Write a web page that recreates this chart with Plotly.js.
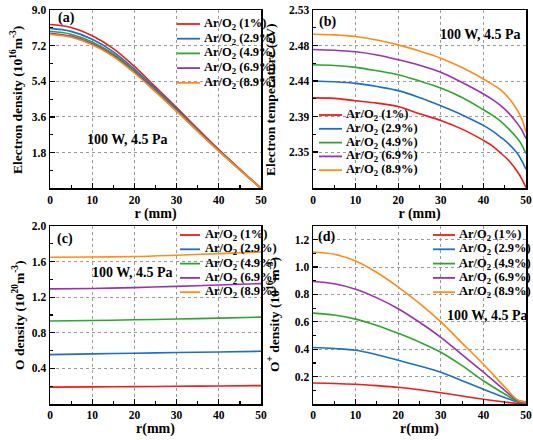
<!DOCTYPE html>
<html>
<head>
<meta charset="utf-8">
<script src="https://cdn.plot.ly/plotly-3.0.1.min.js"></script>
<style>html,body{margin:0;padding:0;background:#fff;}#chart{width:533px;height:440px;}</style>
</head>
<body>
<div id="chart"></div>
<script>
// ---------- data ----------
const seriesLabels = ["Ar/O<sub>2</sub> (1%)", "Ar/O<sub>2</sub> (2.9%)", "Ar/O<sub>2</sub> (4.9%)", "Ar/O<sub>2</sub> (6.9%)", "Ar/O<sub>2</sub> (8.9%)"];
const seriesColors = ["#ee1c1c", "#1f6ec4", "#2fa52f", "#9933aa", "#ff8c1a"];

// (a) electron density (1e16 m^-3)
const rA = [0, 5, 10, 15, 20, 25, 30, 35, 40, 45, 50];
const neAr1  = [8.27, 8.12, 7.70, 7.05, 6.15, 5.12, 4.08, 3.00, 1.95, 0.97, 0];
const neAr29 = [8.07, 7.92, 7.52, 6.89, 6.02, 5.02, 4.00, 2.95, 1.92, 0.95, 0];
const neAr49 = [7.93, 7.78, 7.39, 6.78, 5.93, 4.95, 3.94, 2.91, 1.90, 0.94, 0];
const neAr69 = [7.83, 7.68, 7.30, 6.70, 5.86, 4.90, 3.90, 2.89, 1.89, 0.93, 0];
const neAr89 = [7.77, 7.62, 7.24, 6.65, 5.82, 4.87, 3.88, 2.87, 1.88, 0.93, 0];

// (b) electron temperature (eV)
const rB = [0, 5, 10, 15, 20, 25, 30, 35, 40, 42, 44, 46, 48, 49, 50];
const teAr1  = [2.4186, 2.418, 2.415, 2.412, 2.4076, 2.3985, 2.390, 2.379, 2.3647, 2.358, 2.349, 2.339, 2.325, 2.316, 2.305];
const teAr29 = [2.440, 2.439, 2.437, 2.433, 2.4278, 2.419, 2.4085, 2.397, 2.3837, 2.377, 2.369, 2.360, 2.348, 2.339, 2.328];
const teAr49 = [2.4606, 2.4597, 2.4573, 2.453, 2.448, 2.440, 2.4312, 2.419, 2.4035, 2.397, 2.389, 2.379, 2.367, 2.359, 2.348];
const teAr69 = [2.480, 2.479, 2.477, 2.473, 2.467, 2.460, 2.451, 2.438, 2.4236, 2.417, 2.409, 2.399, 2.386, 2.378, 2.367];
const teAr89 = [2.4993, 2.4985, 2.4964, 2.492, 2.4858, 2.478, 2.469, 2.457, 2.4425, 2.436, 2.429, 2.418, 2.4026, 2.392, 2.375];

// (c) O density (1e20 m^-3)
const rC = [0, 10, 20, 30, 40, 50];
const nOAr1  = [0.190, 0.192, 0.195, 0.199, 0.203, 0.207];
const nOAr29 = [0.555, 0.563, 0.571, 0.578, 0.585, 0.592];
const nOAr49 = [0.932, 0.938, 0.946, 0.955, 0.965, 0.976];
const nOAr69 = [1.293, 1.298, 1.308, 1.322, 1.337, 1.353];
const nOAr89 = [1.649, 1.651, 1.657, 1.672, 1.690, 1.708];

// (d) O+ density (1e16 m^-3)
const rD = [0, 5, 10, 15, 20, 25, 30, 35, 40, 45, 48, 50];
const nOpAr1  = [0.153, 0.150, 0.144, 0.134, 0.122, 0.104, 0.082, 0.058, 0.035, 0.015, 0.004, 0.000];
const nOpAr29 = [0.413, 0.405, 0.392, 0.360, 0.320, 0.278, 0.232, 0.170, 0.108, 0.048, 0.015, 0.010];
const nOpAr49 = [0.664, 0.650, 0.620, 0.574, 0.516, 0.452, 0.378, 0.280, 0.170, 0.073, 0.020, 0.012];
const nOpAr69 = [0.895, 0.878, 0.838, 0.775, 0.696, 0.597, 0.487, 0.360, 0.232, 0.100, 0.027, 0.015];
const nOpAr89 = [1.110, 1.093, 1.044, 0.960, 0.854, 0.735, 0.600, 0.445, 0.290, 0.125, 0.030, 0.015];

const xTicks = [0, 10, 20, 30, 40, 50];
const xMinor = [5, 15, 25, 35, 45];
const yTicksA = [1.8, 3.6, 5.4, 7.2, 9.0];
const yTicksB = [2.35, 2.395, 2.44, 2.485, 2.53];
const yTickTextB = ["2.35", "2.39", "2.44", "2.48", "2.53"];
const yTicksC = [0.4, 0.8, 1.2, 1.6, 2.0];
const yTicksD = [0.2, 0.4, 0.6, 0.8, 1.0, 1.2];
const yTitles = ["Electron density (10<sup>16</sup>m<sup>-3</sup>)", "Electron temperature (eV)",
  "O density (10<sup>20</sup>m<sup>-3</sup>)", "O<sup>+</sup> density (10<sup>16</sup>m<sup>-3</sup>)"];

// ---------- build ----------
const W = 533, H = 440;
const FONT = "Liberation Serif, Times New Roman, serif";
const px = v => v / W;
const py = v => 1 - v / H;

const panels = [
  {r: rA, ys: [neAr1, neAr29, neAr49, neAr69, neAr89], xa: 'x', ya: 'y'},
  {r: rB, ys: [teAr1, teAr29, teAr49, teAr69, teAr89], xa: 'x2', ya: 'y2'},
  {r: rC, ys: [nOAr1, nOAr29, nOAr49, nOAr69, nOAr89], xa: 'x3', ya: 'y3'},
  {r: rD, ys: [nOpAr1, nOpAr29, nOpAr49, nOpAr69, nOpAr89], xa: 'x4', ya: 'y4'}
];

const traces = [];
panels.forEach(p => {
  p.ys.forEach((y, i) => {
    traces.push({x: p.r, y: y, xaxis: p.xa, yaxis: p.ya, type: 'scatter', mode: 'lines',
      name: seriesLabels[i], showlegend: false, line: {color: seriesColors[i], width: 1.6, shape: 'spline', smoothing: 1}});
  });
});

const tickFont = {family: FONT, size: 11.5, weight: 'bold', color: '#000'};
const titleFont = {family: FONT, size: 13.5, weight: 'bold', color: '#000'};
const xTitleFont = {family: FONT, size: 14, weight: 'bold', color: '#000'};

function axBase(extra) {
  return Object.assign({
    showline: true, linecolor: '#000', linewidth: 1.5, mirror: true,
    ticks: 'inside', ticklen: 5, tickwidth: 1.2, tickcolor: '#000',
    showgrid: true, gridcolor: '#9a9a9a', griddash: 'dot', gridwidth: 1,
    zeroline: false, tickfont: tickFont, fixedrange: true
  }, extra);
}
function xAx(domain, anchor, title) {
  return axBase({domain: domain, anchor: anchor, range: [0, 50], tickmode: 'array', tickvals: xTicks,
    minor: {tickmode: 'array', tickvals: xMinor, ticks: 'inside', ticklen: 3, tickcolor: '#000', showgrid: false},
    title: {text: title, font: xTitleFont, standoff: 3}});
}
function yAx(domain, anchor, range, tv, tt, minorVals) {
  const o = axBase({domain: domain, anchor: anchor, range: range, tickmode: 'array', tickvals: tv,
    minor: {tickmode: 'array', tickvals: minorVals, ticks: 'inside', ticklen: 3, tickcolor: '#000', showgrid: false}});
  if (tt) o.ticktext = tt;
  return o;
}

const dxL = [px(50), px(261)], dxR = [px(313), px(526)];
const dyTop = [py(188.3), py(10)], dyBot = [py(404), py(226)];

const layout = {
  width: W, height: H, margin: {l: 0, r: 0, t: 0, b: 0},
  paper_bgcolor: '#fff', plot_bgcolor: '#fff', showlegend: false,
  font: {family: FONT, color: '#000'},
  xaxis: xAx(dxL, 'y', 'r (mm)'),
  yaxis: yAx(dyTop, 'x', [0, 9], yTicksA, yTicksA.map(v => v.toFixed(1)), [0.9, 2.7, 4.5, 6.3, 8.1]),
  xaxis2: xAx(dxR, 'y2', 'r (mm)'),
  yaxis2: yAx(dyTop, 'x2', [2.304, 2.53], yTicksB, yTickTextB, [2.3275, 2.3725, 2.4175, 2.4625, 2.5075]),
  xaxis3: xAx(dxL, 'y3', 'r(mm)'),
  yaxis3: yAx(dyBot, 'x3', [0, 2], yTicksC, yTicksC.map(v => v.toFixed(1)), [0.2, 0.6, 1.0, 1.4, 1.8]),
  xaxis4: xAx(dxR, 'y4', 'r(mm)'),
  yaxis4: yAx(dyBot, 'x4', [0, 1.3], yTicksD, yTicksD.map(v => v.toFixed(1)), [0.1, 0.3, 0.5, 0.7, 0.9, 1.1]),
  shapes: [], annotations: []
};

// y-axis titles as rotated annotations
const yTitlePos = [{x: 16, y: 100}, {x: 270, y: 100}, {x: 18, y: 315}, {x: 273, y: 315}];
yTitles.forEach((t, i) => layout.annotations.push({xref: 'paper', yref: 'paper', x: px(yTitlePos[i].x), y: py(yTitlePos[i].y),
  xanchor: 'center', yanchor: 'middle', textangle: -90, text: t, showarrow: false, font: titleFont}));

// legends (sample lines + text in paper coordinates)
const legendSpecs = [
  {x0: 177, x1: 200, tx: 202, y0: 24, dy: 14.7},
  {x0: 319, x1: 342, tx: 344, y0: 115, dy: 13.8},
  {x0: 180, x1: 200, tx: 203, y0: 235, dy: 14.3},
  {x0: 433, x1: 455, tx: 457, y0: 235, dy: 14.3}
];
legendSpecs.forEach(s => {
  seriesLabels.forEach((lab, i) => {
    const yy = s.y0 + i * s.dy;
    layout.shapes.push({type: 'line', xref: 'paper', yref: 'paper', x0: px(s.x0), x1: px(s.x1), y0: py(yy), y1: py(yy),
      line: {color: seriesColors[i], width: 1.8}});
    layout.annotations.push({xref: 'paper', yref: 'paper', x: px(s.tx), y: py(yy), xanchor: 'left', yanchor: 'middle',
      text: lab, showarrow: false, font: {family: FONT, size: 12.5, weight: 'bold', color: '#000'}});
  });
});

// panel labels and conditions
const panelTags = [
  {t: '(a)', x: 56, y: 18}, {t: '(b)', x: 317, y: 22}, {t: '(c)', x: 55, y: 239}, {t: '(d)', x: 316, y: 237}
];
panelTags.forEach(p => layout.annotations.push({xref: 'paper', yref: 'paper', x: px(p.x), y: py(p.y), xanchor: 'left', yanchor: 'middle',
  text: p.t, showarrow: false, font: {family: FONT, size: 14, weight: 'bold', color: '#000'}}));
const condTags = [{x: 127, y: 140}, {x: 480, y: 34}, {x: 132, y: 272}, {x: 487, y: 315}];
condTags.forEach(p => layout.annotations.push({xref: 'paper', yref: 'paper', x: px(p.x), y: py(p.y), xanchor: 'center', yanchor: 'middle',
  text: '100 W, 4.5 Pa', showarrow: false, font: {family: FONT, size: 14, weight: 'bold', color: '#000'}}));

Plotly.newPlot('chart', traces, layout, {displayModeBar: false, staticPlot: true});
</script>
</body>
</html>
